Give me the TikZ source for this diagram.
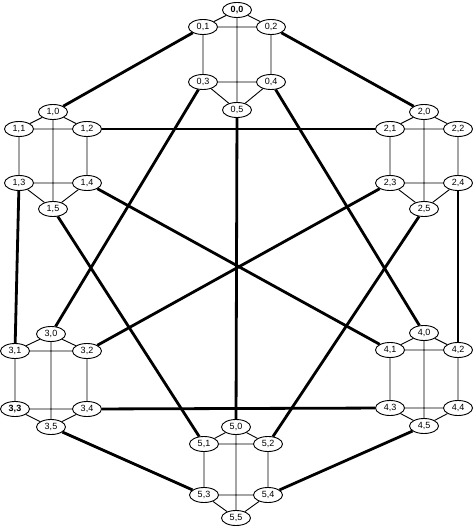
\documentclass[tikz,border=0pt]{standalone}
\usepackage{fontspec}
\setmainfont{Liberation Sans}
\usetikzlibrary{shapes.geometric}

% bold label only for the two marked vertices
\newcommand{\vlabel}[2]{\ifnum#1#2=0\relax\textbf{#1,#2}\else\ifnum#1#2=33\relax\textbf{#1,#2}\else#1,#2\fi\fi}

\tikzset{
  vertex/.style={ellipse, draw, fill=white, line width=0.9pt,
    minimum width=29pt, minimum height=15pt, inner sep=0pt,
    font=\fontsize{9}{10}\selectfont},
  inner/.style={line width=0.9pt},
  outer/.style={line width=2.8pt}
}

\begin{document}
\begin{tikzpicture}[x=1pt, y=-1pt]
  \useasboundingbox (0,0) rectangle (474,526);
  % cluster / centre x / top y / half width / lower row / bottom
  \foreach \c/\cx/\cy/\w/\l/\b in {0/237/10/34/72/100, 1/53/112/34/71/97,
      2/424/112/34/71/97, 3/51/334/36/75/93, 4/424/333/34/75/93,
      5/236/427/32/68/91} {
    \node[vertex] (n\c0) at (\cx, \cy) {\vlabel{\c}{0}};
    \node[vertex] (n\c1) at (\cx-\w, \cy+17) {\vlabel{\c}{1}};
    \node[vertex] (n\c2) at (\cx+\w, \cy+17) {\vlabel{\c}{2}};
    \node[vertex] (n\c3) at (\cx-\w, \cy+\l) {\vlabel{\c}{3}};
    \node[vertex] (n\c4) at (\cx+\w, \cy+\l) {\vlabel{\c}{4}};
    \node[vertex] (n\c5) at (\cx, \cy+\b) {\vlabel{\c}{5}};
    \draw[inner] (n\c0) -- (n\c1) -- (n\c2) -- (n\c0) -- (n\c5)
      (n\c3) -- (n\c4) -- (n\c5) -- (n\c3)
      (n\c1) -- (n\c3) (n\c2) -- (n\c4);
  }
  % links between clusters: i,j -- j,i
  \foreach \i/\j in {0/1, 0/2, 0/3, 0/4, 0/5, 1/2, 1/3, 1/4, 1/5,
      2/3, 2/4, 2/5, 3/4, 3/5, 4/5}
    \draw[outer] (n\i\j) -- (n\j\i);
\end{tikzpicture}
\end{document}
